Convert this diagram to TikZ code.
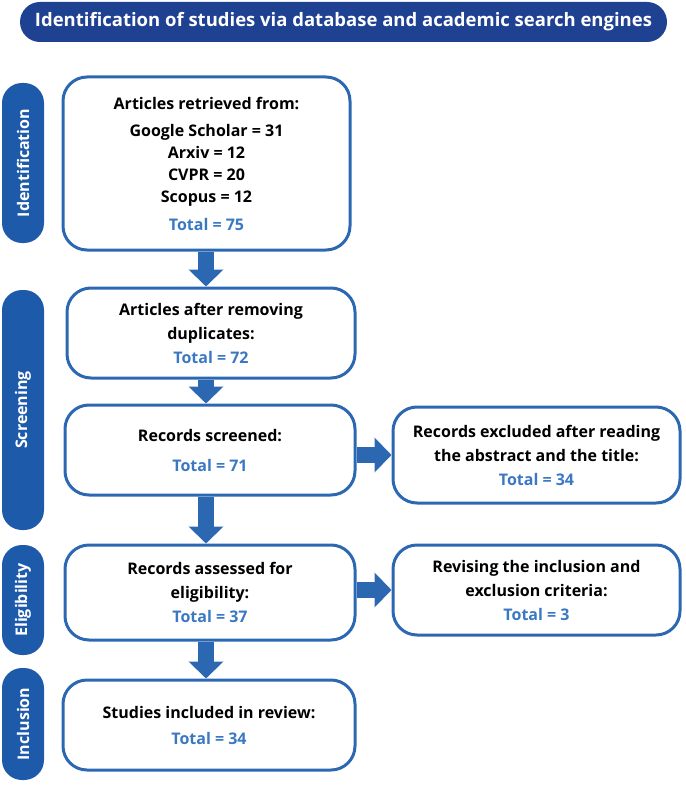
\documentclass[tikz,border=0pt]{standalone}
\usepackage{fontspec}
\setmainfont{Open Sans}
\usetikzlibrary{arrows.meta}
\definecolor{headblue}{HTML}{1F4192}
\definecolor{barblue}{HTML}{1E5AAA}
\definecolor{boxblue}{HTML}{2C68B2}
\definecolor{totblue}{HTML}{3A78C2}
\tikzset{
    box/.style={draw=boxblue, line width=3pt, rounded corners=24pt, align=center, font=\bfseries\fontsize{16}{24}\selectfont, inner sep=0pt},
    bar/.style={fill=barblue, text=white, rounded corners=20pt, rotate=90, minimum height=42pt, font=\bfseries\fontsize{16}{18}\selectfont, inner sep=0pt},
    flow/.style={boxblue, line width=16pt, -{Triangle[width=34pt,length=17pt]}},
}
\newcommand{\tot}[1]{\textcolor{totblue}{Total = #1}}
\begin{document}
\begin{tikzpicture}[x=1pt,y=-1pt]
    \useasboundingbox (0,0) rectangle (685,786);
    % header
    \node[fill=headblue, text=white, rounded corners=20pt, minimum width=647pt, minimum height=40pt, font=\bfseries\fontsize{18.5}{20}\selectfont] (head) at (343.5,22) {Identification of studies via database and academic search engines};

    % stage bars
    \node[bar, minimum width=160pt] (idbar) at (23,163) {Identification};
    \node[bar, minimum width=240pt] (scbar) at (23,410) {Screening};
    \node[bar, minimum width=110pt] (elbar) at (23,600) {Eligibility};
    \node[bar, minimum width=112pt] (inbar) at (23,724) {Inclusion};

    % boxes
    \node[box, minimum width=287pt, minimum height=173pt] (retr) at (206.5,163.5) {Articles retrieved from:\\[3pt]
        Google Scholar = 31\\[-2pt] Arxiv = 12\\[-2pt] CVPR = 20\\[-2pt] Scopus = 12\\[4pt] \tot{75}};
    \node[box, minimum width=288pt, minimum height=90pt] (dupl) at (211,333) {Articles after removing\\duplicates:\\ \tot{72}};
    \node[box, minimum width=290pt, minimum height=90pt] (scrn) at (210,450) {Records screened:\\[6pt] \tot{71}};
    \node[box, minimum width=287pt, minimum height=96pt] (excl) at (536.5,455) {Records excluded after reading\\the abstract and the title:\\ \tot{34}};
    \node[box, minimum width=290pt, minimum height=95pt] (elig) at (210,592.5) {Records assessed for\\eligibility:\\ \tot{37}};
    \node[box, minimum width=287pt, minimum height=90pt] (revi) at (536.5,590) {Revising the inclusion and\\exclusion criteria:\\ \tot{3}};
    \node[box, minimum width=292pt, minimum height=90pt] (incl) at (209,725) {Studies included in review:\\[2pt] \tot{34}};

    % arrows
    \draw[flow] (retr.south -| 206,0) -- (dupl.north -| 206,0);
    \draw[flow] (dupl.south -| 206,0) -- (scrn.north -| 206,0);
    \draw[flow] (scrn.south -| 206,0) -- (elig.north -| 206,0);
    \draw[flow] (elig.south -| 206,0) -- (incl.north -| 206,0);
    \draw[flow] (scrn.east |- 0,455) -- (excl.west |- 0,455);
    \draw[flow] (elig.east |- 0,590) -- (revi.west |- 0,590);
\end{tikzpicture}
\end{document}
